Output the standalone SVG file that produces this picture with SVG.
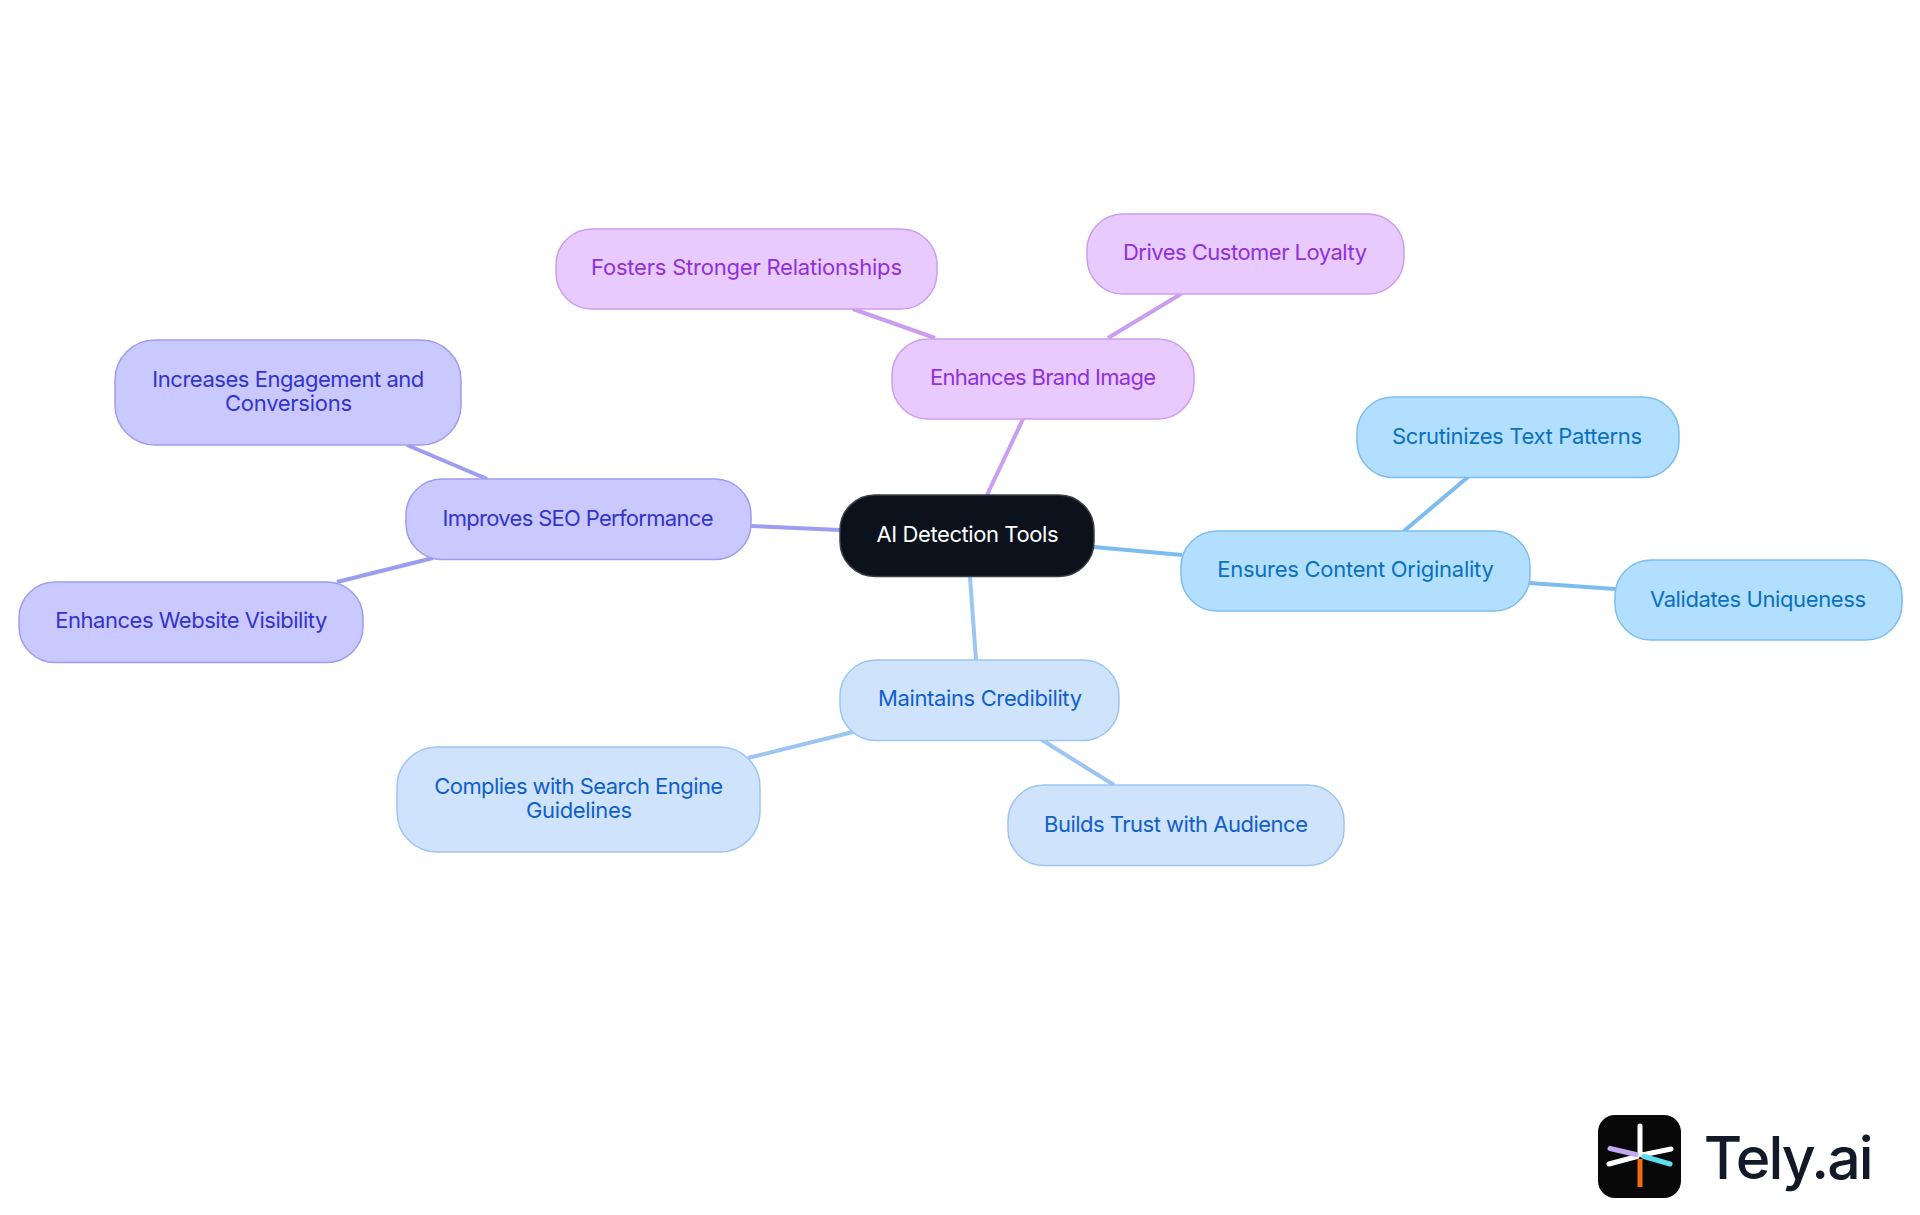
<svg xmlns="http://www.w3.org/2000/svg" width="1920" height="1215" viewBox="0 0 1920 1215">
<style>
text{font-family:"Inter","Noto Sans","Liberation Sans",sans-serif;font-size:22px;text-anchor:middle;font-weight:400}
.c{fill:none;stroke-width:4}
.n{stroke-width:1.5}
.p{fill:#e8caff;stroke:#cb9df0}.pt{fill:#9030d8}
.v{fill:#c9c9ff;stroke:#9d9df0}.vt{fill:#3333cc}
.l{fill:#cfe3fd;stroke:#9cc5f2}.lt{fill:#1060c8}
.b{fill:#b3dffe;stroke:#7bbdf0}.bt{fill:#0a70c0}
</style>
<rect width="1920" height="1215" fill="#fff"/>
<g id="connectors">
<path class="c" stroke="#cb9df0" d="M987 495L1023 419"/>
<path class="c" stroke="#cb9df0" d="M935 338L853 309"/>
<path class="c" stroke="#cb9df0" d="M1108 338L1181 294"/>
<path class="c" stroke="#9d9df0" d="M840 530L751 526"/>
<path class="c" stroke="#9d9df0" d="M487 479L407 445"/>
<path class="c" stroke="#9d9df0" d="M433 558L337 582"/>
<path class="c" stroke="#7bbdf0" d="M1094 547L1182 555"/>
<path class="c" stroke="#7bbdf0" d="M1404 531L1468 477"/>
<path class="c" stroke="#7bbdf0" d="M1529 583L1615 589"/>
<path class="c" stroke="#9cc5f2" d="M970 577L976 660"/>
<path class="c" stroke="#9cc5f2" d="M853 732L748 758"/>
<path class="c" stroke="#9cc5f2" d="M1042 740L1114 785"/>
</g>
<g id="root"><rect x="840" y="495" width="254" height="81.5" rx="35" fill="#0b121b" stroke="#3a3f46" stroke-width="1.5"/><text x="967.5" y="542" fill="#fff" textLength="182">AI Detection Tools</text></g>
<g id="brand"><rect class="n p" x="892" y="339" width="302" height="80" rx="36"/><text class="pt" x="1043" y="385" textLength="226">Enhances Brand Image</text></g>
<g id="relationships"><rect class="n p" x="556" y="229" width="381" height="80" rx="36"/><text class="pt" x="746.5" y="275" textLength="311">Fosters Stronger Relationships</text></g>
<g id="loyalty"><rect class="n p" x="1087" y="214" width="317" height="80" rx="36"/><text class="pt" x="1245" y="260" textLength="244">Drives Customer Loyalty</text></g>
<g id="seo"><rect class="n v" x="406" y="479" width="345" height="80.5" rx="36"/><text class="vt" x="578" y="526" textLength="271">Improves SEO Performance</text></g>
<g id="engagement"><rect class="n v" x="115" y="340" width="346" height="105" rx="40"/><text class="vt" x="288.3" y="387" textLength="272">Increases Engagement and</text><text class="vt" x="288.5" y="411" textLength="127">Conversions</text></g>
<g id="visibility"><rect class="n v" x="19" y="582" width="344" height="80.5" rx="36"/><text class="vt" x="191.3" y="628" textLength="272">Enhances Website Visibility</text></g>
<g id="originality"><rect class="n b" x="1181" y="531" width="349" height="80" rx="36"/><text class="bt" x="1355.5" y="577" textLength="276.5">Ensures Content Originality</text></g>
<g id="patterns"><rect class="n b" x="1357" y="397" width="322" height="80.5" rx="36"/><text class="bt" x="1517" y="444" textLength="250">Scrutinizes Text Patterns</text></g>
<g id="uniqueness"><rect class="n b" x="1615" y="560" width="287" height="80" rx="36"/><text class="bt" x="1758" y="607" textLength="216">Validates Uniqueness</text></g>
<g id="credibility"><rect class="n l" x="840" y="660" width="279" height="80.5" rx="36"/><text class="lt" x="980" y="706" textLength="204">Maintains Credibility</text></g>
<g id="guidelines"><rect class="n l" x="397" y="747" width="363" height="105" rx="40"/><text class="lt" x="578.7" y="794" textLength="289">Complies with Search Engine</text><text class="lt" x="579" y="818" textLength="106">Guidelines</text></g>
<g id="trust"><rect class="n l" x="1008" y="785" width="336" height="80.5" rx="36"/><text class="lt" x="1176" y="832" textLength="264">Builds Trust with Audience</text></g>
<g id="logo">
<rect x="1598" y="1115" width="83" height="83" rx="17" fill="#080808"/>
<g stroke-width="5" stroke-linecap="round" fill="none">
<path stroke="#fff" d="M1640 1126V1154M1642 1155L1671 1149M1637 1156.500L1609 1164"/>
<path stroke="#c4a8f4" d="M1610 1148.500L1636 1154.500"/>
<path stroke="#5fdcec" d="M1644 1156.500L1670 1164"/>
<path stroke="#f26a12" stroke-linecap="butt" d="M1640 1159V1187"/>
</g>
<text x="1788.700" y="1179" style="font-size:59px;font-weight:500" fill="#111a26" textLength="170">Tely.ai</text>
</g>
</svg>
